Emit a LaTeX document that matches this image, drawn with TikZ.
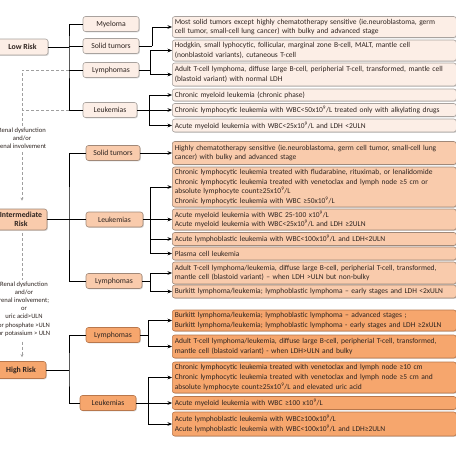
\documentclass[tikz,border=0pt]{standalone}
\usepackage{fontspec}
\setmainfont{Carlito}
\usetikzlibrary{arrows.meta,shadows,positioning}

\definecolor{lowfill}{HTML}{FCEEE6}
\definecolor{lowdraw}{HTML}{A8A29E}
\definecolor{midfill}{HTML}{F9CBAC}
\definecolor{middraw}{HTML}{A08878}
\definecolor{highfill}{HTML}{F6A66D}
\definecolor{highdraw}{HTML}{B8774C}
\definecolor{txt}{HTML}{2E2420}

\newcommand{\pownine}{\textsuperscript{9}}

\begin{document}
\begin{tikzpicture}[x=1pt,y=-1pt,
	box/.style={draw, rounded corners=2.5pt, line width=0.6pt, text=txt,
		drop shadow={shadow xshift=0.9pt, shadow yshift=-0.9pt, opacity=0.3}},
	lowbox/.style={box, draw=lowdraw, fill=lowfill},
	midbox/.style={box, draw=middraw, fill=midfill},
	highbox/.style={box, draw=highdraw, fill=highfill},
	risk/.style={font=\bfseries\fontsize{7.8}{9.4}\selectfont, align=center, inner sep=1pt},
	cat/.style={font=\fontsize{7.7}{9}\selectfont, minimum width=56pt, minimum height=15pt, inner sep=1pt},
	detail/.style={anchor=west, text width=279pt, inner xsep=2.5pt, inner ysep=1pt, align=left,
		font=\fontsize{7.5}{9.7}\selectfont},
	link/.style={line width=0.8pt},
	tip/.style={link, -{Stealth[length=4.5pt,width=3.8pt]}},
	cond/.style={gray!75, dashed, dash pattern=on 3pt off 2pt, line width=0.7pt},
	condtip/.style={cond, -{Stealth[length=3pt,width=3pt]}},
	note/.style={font=\fontsize{6.6}{8.2}\selectfont, align=center, inner sep=0pt, text=txt}]
	\clip (0,0) rectangle (456,456);
	\fill[white] (0,0) rectangle (456,456);

	%low risk
	\node[lowbox, risk, minimum width=51pt, minimum height=16pt] (low) at (22.5,47) {Low Risk};
	\node[lowbox, cat] (lmye) at (111,24) {Myeloma};
	\node[lowbox, cat] (lsol) at (111,46) {Solid tumors};
	\node[lowbox, cat] (llym) at (111,70) {Lymphomas};
	\node[lowbox, cat, minimum width=54pt] (lleu) at (110,110) {Leukemias};

	\node[lowbox, detail, minimum height=21pt] (d1) at (172,27) {Most solid tumors except highly chematotherapy sensitive (ie.neuroblastoma, germ\\cell tumor, small-cell lung cancer) with bulky and advanced stage};
	\node[lowbox, detail, minimum height=21pt] (d2) at (172,50.5) {Hodgkin, small lyphocytic, follicular, marginal zone B-cell, MALT, mantle cell\\(nonblastoid variants), cutaneous T-cell};
	\node[lowbox, detail, minimum height=23pt] (d3) at (172,74.5) {Adult T-cell lymphoma, diffuse large B-cell, peripherial T-cell, transformed, mantle cell\\(blastoid variant) with normal LDH};
	\node[lowbox, detail, minimum height=12pt] (d4) at (172,95) {Chronic myeloid leukemia (chronic phase)};
	\node[lowbox, detail, minimum height=13pt] (d5) at (172,110) {Chronic lymphocytic leukemia with WBC<50x10\pownine/L treated only with alkylating drugs};
	\node[lowbox, detail, minimum height=13pt] (d6) at (172,125.5) {Acute myeloid leukemia with WBC<25x10\pownine/L and LDH <2ULN};

	%intermediate risk
	\node[midbox, risk, minimum width=52pt, minimum height=21pt] (mid) at (21,219.5) {Intermediate\\Risk};
	\node[midbox, cat, minimum width=54pt] (msol) at (113,153) {Solid tumors};
	\node[midbox, cat, minimum width=57pt] (mleu) at (114.5,219.5) {Leukemias};
	\node[midbox, cat] (mlym) at (114,281) {Lymphomas};

	\node[midbox, detail, minimum height=23pt] (d7) at (172,153) {Highly chematotherapy sensitive (ie.neuroblastoma, germ cell tumor, small-cell lung\\cancer) with bulky and advanced stage};
	\node[midbox, detail, minimum height=40pt] (d8) at (172,187) {Chronic lymphocytic leukemia treated with fludarabine, rituximab, or lenalidomide\\Chronic lymphocytic leukemia treated with venetoclax and lymph node ≥5 cm or\\absolute lymphocyte count≥25x10\pownine/L\\Chronic lymphocytic leukemia with WBC ≥50x10\pownine/L};
	\node[midbox, detail, minimum height=21pt] (d9) at (172,219.5) {Acute myeloid leukemia with WBC 25-100 x10\pownine/L\\Acute myeloid leukemia with WBC<25x10\pownine/L and LDH ≥2ULN};
	\node[midbox, detail, minimum height=13pt] (d10) at (172,239) {Acute lymphoblastic leukemia with WBC<100x10\pownine/L and LDH<2ULN};
	\node[midbox, detail, minimum height=13pt] (d11) at (172,253.5) {Plasma cell leukemia};
	\node[midbox, detail, minimum height=22pt] (d12) at (172,273) {Adult T-cell lymphoma/leukemia, diffuse large B-cell, peripherial T-cell, transformed,\\mantle cell (blastoid variant) – when LDH >ULN but non-bulky};
	\node[midbox, detail, minimum height=13pt] (d13) at (172,291.5) {Burkitt lymphoma/leukemia; lymphoblastic lymphoma – early stages and LDH <2xULN};

	%high risk
	\node[highbox, risk, minimum width=50pt, minimum height=17pt] (high) at (21,370) {High Risk};
	\node[highbox, cat, minimum width=54pt] (hlym) at (113,335) {Lymphomas};
	\node[highbox, cat] (hleu) at (108,403) {Leukemias};

	\node[highbox, detail, minimum height=21pt] (d14) at (172,320.5) {Burkitt lymphoma/leukemia; lymphoblastic lymphoma – advanced stages ;\\Burkitt lymphoma/leukemia; lymphoblastic lymphoma - early stages and LDH ≥2xULN};
	\node[highbox, detail, minimum height=23pt] (d15) at (172,346.5) {Adult T-cell lymphoma/leukemia, diffuse large B-cell, peripherial T-cell, transformed,\\mantle cell (blastoid variant) - when LDH>ULN and bulky};
	\node[highbox, detail, minimum height=31pt] (d16) at (172,377.5) {Chronic lymphocytic leukemia treated with venetoclax and lymph node ≥10 cm\\Chronic lymphocytic leukemia treated with venetoclax and lymph node ≥5 cm and\\absolute lymphocyte count≥25x10\pownine/L and elevated uric acid};
	\node[highbox, detail, minimum height=13pt] (d17) at (172,403) {Acute myeloid leukemia with WBC ≥100 x10\pownine/L};
	\node[highbox, detail, minimum height=24pt] (d18) at (172,424) {Acute lymphoblastic leukemia with WBC≥100x10\pownine/L\\Acute lymphoblastic leukemia with WBC<100x10\pownine/L and LDH≥2ULN};

	%conditions
	\node[note] (c1) at (22,138.5) {Renal dysfunction\\and/or\\renal involvement};
	\node[note] (c2) at (24,309) {Renal dysfunction\\and/or\\renal involvement;\\or\\uric acid>ULN\\or phosphate >ULN\\or potassium > ULN};

	%trunks
	\coordinate (jlow) at (69,47);
	\coordinate (jmid) at (69,219.5);
	\coordinate (jhigh) at (69,370);
	\draw[link] (low) -- (jlow);
	\draw[link] (lmye) -| (jlow) |- (lleu);
	\draw[link] (lsol) -- (lsol -| jlow); \draw[link] (llym) -- (llym -| jlow);
	\draw[link] (mid) -- (mleu);
	\draw[link] (msol) -| (jmid) |- (mlym);
	\draw[link] (high) -- (jhigh);
	\draw[link] (hlym) -| (jhigh) |- (hleu);

	%branches
	\coordinate (jls) at (152,46);
	\draw[link] (lsol) -- (jls); \draw[tip] (jls) |- (d1);
	\coordinate (jll) at (150,70);
	\draw[link] (llym) -- (jll); \draw[tip] (jll) |- (d2); \draw[tip] (jll) |- (d3);
	\coordinate (jle) at (149,110);
	\draw[link] (lleu) -- (jle); \draw[tip] (jle) |- (d4); \draw[tip] (jle) -- (d5); \draw[tip] (jle) |- (d6);

	\draw[tip] (msol) -- (d7);
	\coordinate (jme) at (150,219.5);
	\draw[link] (mleu) -- (jme); \draw[tip] (jme) |- (d8); \draw[tip] (jme) -- (d9);
	\draw[tip] (jme) |- (d10); \draw[tip] (jme) |- (d11);
	\coordinate (jml) at (150,281);
	\draw[link] (mlym) -- (jml); \draw[tip] (jml) |- (d12); \draw[tip] (jml) |- (d13);

	\coordinate (jhl) at (148,335);
	\draw[link] (hlym) -- (jhl); \draw[tip] (jhl) |- (d14); \draw[tip] (jhl) |- (d15);
	\coordinate (jhe) at (148,403);
	\draw[link] (hleu) -- (jhe); \draw[tip] (jhe) |- (d16); \draw[tip] (jhe) -- (d17); \draw[tip] (jhe) |- (d18);

	%dashed conditions
	\draw[cond] (llym -| jlow) -| ([yshift=2pt]c1.north);
	\draw[cond] (lleu -| jlow) -- (lleu -| c1);
	\draw[condtip, shorten <=3pt, shorten >=8pt] (c1) -- (c1 |- mid.north);
	\draw[cond, shorten <=3pt, shorten >=1pt] (mid.south -| c1) -- (c2.north -| c1);
	\draw[condtip, shorten <=5pt, shorten >=4pt] (c2.south -| c1) -- (high.north -| c1);
\end{tikzpicture}
\end{document}
